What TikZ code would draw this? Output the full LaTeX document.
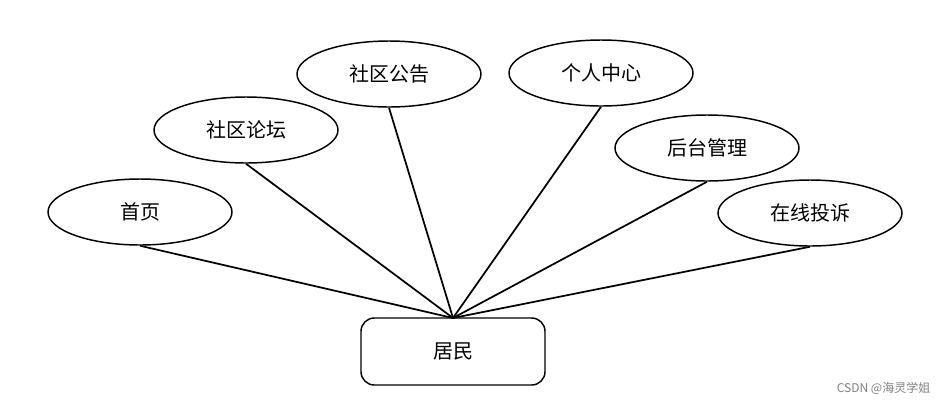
\documentclass[tikz,border=0pt]{standalone}
\usepackage{fontspec}
\newfontfamily\cjk{Noto Sans CJK SC}
\usetikzlibrary{shapes.geometric}
\begin{document}
\begin{tikzpicture}[x=0.75pt,y=-0.75pt,
  ent/.style={ellipse,draw,line width=1.1pt,minimum width=184*0.75pt,minimum height=66*0.75pt,inner sep=0pt,font=\cjk\fontsize{15}{17}\selectfont},
  actor/.style={rectangle,rounded corners=10pt,draw,line width=1.1pt,minimum width=184*0.75pt,minimum height=67*0.75pt,font=\cjk\fontsize{15}{17}\selectfont},
  link/.style={line width=1.3pt}]
\useasboundingbox (0,0) rectangle (947,405);
\node[ent] (a) at (140,212) {首页};
\node[ent] (b) at (246,130) {社区论坛};
\node[ent] (c) at (389,74) {社区公告};
\node[ent] (d) at (601,73) {个人中心};
\node[ent] (e) at (707,148) {后台管理};
\node[ent] (f) at (810,213) {在线投诉};
\node[actor] (r) at (453,351.5) {居民};
\coordinate (p) at (453,318);
\foreach \n in {a,b,c,d,e,f} \draw[link] (\n.south) -- (p);
\node[anchor=east,text=gray,font=\cjk\fontsize{9}{11}\selectfont] (w) at (935,388) {CSDN @海灵学姐};
\end{tikzpicture}
\end{document}
